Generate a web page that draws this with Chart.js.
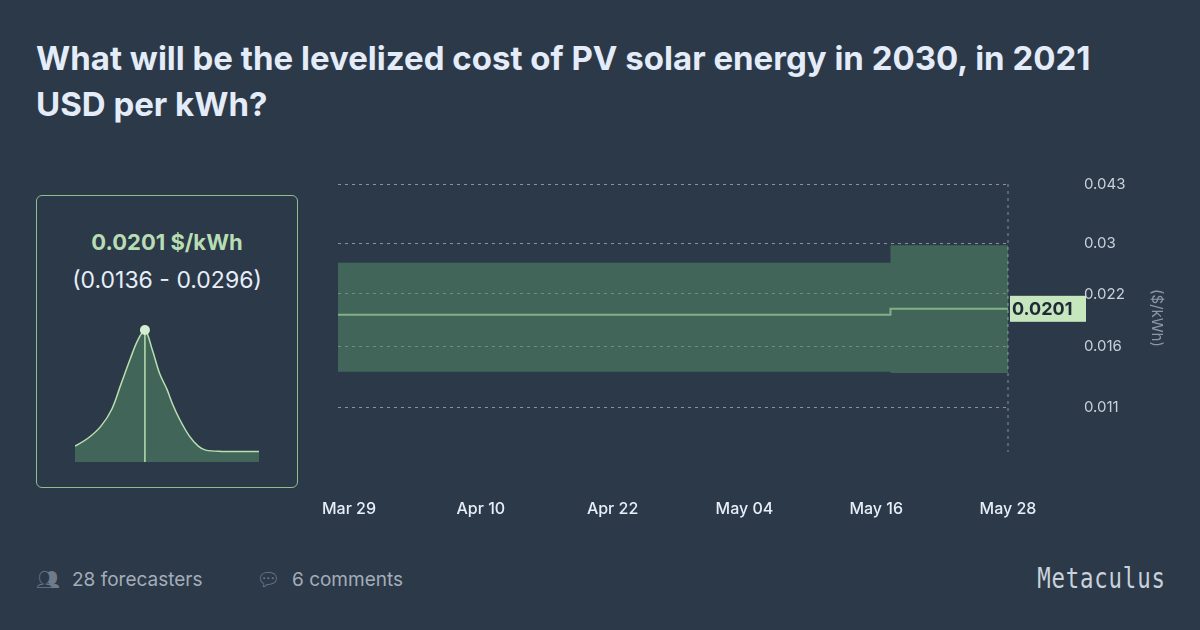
<!DOCTYPE html>
<html><head><meta charset="utf-8">
<script src="https://cdn.jsdelivr.net/npm/chart.js@4"></script>
<style>
body{margin:0;width:1200px;height:630px;background:#2c3949;font-family:Inter,"Noto Sans",sans-serif;overflow:hidden;position:relative;color:#e6eef8}
h1{position:absolute;left:36px;top:35px;margin:0;font-size:33px;line-height:46px;font-weight:700;width:1120px;color:#e3ecf8}
#card{position:absolute;left:36px;top:195px;width:260px;height:291px;border:1.5px solid #8fbf8f;border-radius:6px}
#card .v{position:absolute;top:33px;width:100%;text-align:center;font-weight:700;font-size:22px;color:#b9ddb3}
#card .r{position:absolute;top:70px;width:100%;text-align:center;font-size:23px;color:#e6eef8}
#mini{position:absolute;left:38px;top:128px;width:184px;height:138px}
#main{position:absolute;left:0;top:99px;width:1200px;height:438px}
.foot{position:absolute;top:568px;font-size:19px;color:#a3adb8}
.ic{color:#6f7b89;margin-right:12px}
#logo{position:absolute;right:34px;top:562px;font-size:28px;color:#c9d1da;letter-spacing:1px;transform:scaleX(0.8);transform-origin:right;font-family:"DejaVu Sans Mono",monospace}
</style></head><body>
<h1>What will be the levelized cost of PV solar energy in 2030, in 2021 USD per kWh?</h1>
<div id="card"><div class="v">0.0201 $/kWh</div><div class="r">(0.0136 - 0.0296)</div><div id="mini"><canvas id="mc"></canvas></div></div>
<div id="main"><canvas id="cc"></canvas></div>
<div class="foot" style="left:36px"><span class="ic">&#128101;&#xFE0E;</span>28 forecasters</div>
<div class="foot" style="left:256px"><span class="ic">&#128172;&#xFE0E;</span>6 comments</div>
<div id="logo">Metaculus</div>
<script>
// days since Mar 29
const tickDays = [0, 12, 24, 36, 48, 60];
const tickLabels = ['Mar 29', 'Apr 10', 'Apr 22', 'May 04', 'May 16', 'May 28'];
const yTicks = [0.011, 0.016, 0.022, 0.03, 0.043];
const stepDays = [-1, 49.3, 49.3, 60];
const upper = [0.0266, 0.0266, 0.0296, 0.0296];
const lower = [0.0137, 0.0137, 0.0136, 0.0136];
const median = [0.0194, 0.0194, 0.0201, 0.0201];
const current = 0.0201;

// density of the current forecast (x in % of range)
const densX = [0, 7, 14, 20, 25, 30, 34, 38, 42, 46, 50, 53, 57, 62, 67, 71, 80, 90, 100];
const densY = [12, 18, 27, 40, 59, 78, 92, 100, 85, 67, 55, 44, 32, 20, 12, 9, 8, 8, 8];

const pts = a => stepDays.map((d, i) => ({x: d, y: a[i]}));
const green = '#b9e0b0';

const labelPlugin = {
  id: 'lbl',
  afterDraw(c) {
    const ctx = c.ctx, y = c.scales.y.getPixelForValue(current), x = c.chartArea.right + 2;
    ctx.fillStyle = '#c6e6bd'; ctx.fillRect(x, y - 13, 76, 26);
    ctx.fillStyle = '#1f2a36'; ctx.font = 'bold 18px Inter'; ctx.textBaseline = 'middle';
    ctx.fillText('0.0201', x + 2, y + 1);
    ctx.save(); ctx.setLineDash([3, 4]); ctx.strokeStyle = 'rgba(255,255,255,0.45)'; ctx.lineWidth = 1;
    ctx.beginPath(); ctx.moveTo(c.chartArea.right, c.chartArea.top); ctx.lineTo(c.chartArea.right, c.chartArea.bottom); ctx.stroke();
    ctx.restore();
  }
};

new Chart(document.getElementById('cc'), {
  type: 'line',
  data: { datasets: [
    { data: pts(upper), borderWidth: 0, pointRadius: 0, fill: false },
    { data: pts(lower), borderWidth: 0, pointRadius: 0, fill: '-1', backgroundColor: 'rgba(86,138,104,0.55)' },
    { data: pts(median), borderColor: green, borderWidth: 2, pointRadius: 0, fill: false }
  ]},
  options: {
    animation: false, responsive: true, maintainAspectRatio: false,
    layout: { padding: { left: 338, right: 30, top: 14 } },
    plugins: { legend: { display: false }, tooltip: { enabled: false } },
    scales: {
      x: { type: 'linear', min: -1, max: 60,
        afterBuildTicks: s => { s.ticks = tickDays.map(v => ({value: v})); },
        afterFit: s => { s.height = 78; },
        ticks: { padding: 40, color: '#e6eef8', font: { size: 16, family: 'Inter', weight: '500' },
          callback: v => tickLabels[tickDays.indexOf(v)] },
        grid: { display: false }, border: { display: false } },
      y: { type: 'logarithmic', position: 'right', min: 0.0084, max: 0.043,
        afterBuildTicks: s => { s.ticks = yTicks.map(v => ({value: v})); },
        afterFit: s => { s.width = 162; },
        ticks: { padding: 76, color: '#c9d1da', font: { size: 15, family: 'Inter' }, callback: v => String(v) },
        title: { display: true, text: '($/kWh)', color: '#8d97a3', font: { size: 15, family: 'Inter' } },
        grid: { color: 'rgba(255,255,255,0.45)', drawTicks: false, tickBorderDash: [3, 4] },
        border: { display: false, dash: [3, 4] } }
    }
  },
  plugins: [labelPlugin]
});

const peakPlugin = {
  id: 'peak',
  afterDatasetsDraw(c) {
    const ctx = c.ctx, x = c.scales.x.getPixelForValue(38), y = c.scales.y.getPixelForValue(100);
    ctx.strokeStyle = green; ctx.lineWidth = 1.5;
    ctx.beginPath(); ctx.moveTo(x, y); ctx.lineTo(x, c.chartArea.bottom); ctx.stroke();
    ctx.fillStyle = '#d6eed0'; ctx.beginPath(); ctx.arc(x, y, 5, 0, 2 * Math.PI); ctx.fill();
  }
};

new Chart(document.getElementById('mc'), {
  type: 'line',
  data: { datasets: [{ data: densX.map((x, i) => ({x, y: densY[i]})), borderColor: green, borderWidth: 1.5,
    backgroundColor: 'rgba(86,138,104,0.55)', fill: 'origin', pointRadius: 0, tension: 0.35 }] },
  options: { animation: false, responsive: true, maintainAspectRatio: false,
    layout: { padding: { top: 6 } },
    plugins: { legend: { display: false }, tooltip: { enabled: false } },
    scales: { x: { type: 'linear', min: 0, max: 100, display: false }, y: { min: 0, max: 100, display: false } } },
  plugins: [peakPlugin]
});
</script>
</body></html>
